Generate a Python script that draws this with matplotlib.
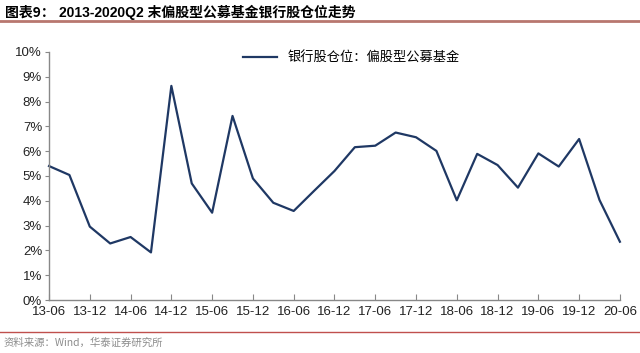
import matplotlib
matplotlib.use("Agg")
import matplotlib.pyplot as plt
from matplotlib.lines import Line2D

plt.rcParams["font.family"] = ["Liberation Sans", "Noto Sans CJK SC", "DejaVu Sans"]

# quarterly bank-stock weight of equity-biased public funds, 13-06 .. 20-06
quarters = ["13-06", "13-09", "13-12", "14-03", "14-06", "14-09", "14-12", "15-03",
            "15-06", "15-09", "15-12", "16-03", "16-06", "16-09", "16-12", "17-03",
            "17-06", "17-09", "17-12", "18-03", "18-06", "18-09", "18-12", "19-03",
            "19-06", "19-09", "19-12", "20-03", "20-06"]
weight = [5.40, 5.04, 2.96, 2.28, 2.54, 1.92, 8.63, 4.70,
          3.52, 7.42, 4.90, 3.92, 3.59, 4.40, 5.20, 6.16,
          6.22, 6.75, 6.56, 6.01, 4.02, 5.89, 5.44, 4.53,
          5.91, 5.38, 6.49, 4.03, 2.35]
series_name = "银行股仓位：偏股型公募基金"

fig = plt.figure(figsize=(6.4, 3.53), dpi=100)
ax = fig.add_axes([0.0766, 0.150, 0.892, 0.703])

x = list(range(len(quarters)))
ax.plot(x, weight, color="#1f3864", lw=1.6, label=series_name, clip_on=False)

ax.set_xlim(0, len(quarters) - 1)
ax.set_ylim(0, 10)
ax.set_yticks(range(0, 11))
ax.set_yticklabels([f"{v}%" for v in range(0, 11)], fontsize=9.5, color="#222222")
ax.set_xticks(x[::2])
ax.set_xticklabels(quarters[::2], fontsize=9.5, color="#222222")

for side in ["top", "right"]:
    ax.spines[side].set_visible(False)
for side in ["left", "bottom"]:
    ax.spines[side].set_color("#888888")
    ax.spines[side].set_linewidth(1.0)
ax.tick_params(axis="x", direction="in", length=4, color="#888888", pad=4)
ax.tick_params(axis="y", direction="out", length=3, color="#888888", pad=2)

ax.legend(handles=[Line2D([0], [0], color="#1f3864", lw=1.6)], labels=[series_name],
          loc="upper center", bbox_to_anchor=(0.53, 1.05), frameon=False,
          prop={"family": ["Noto Sans CJK SC"], "size": 9.5}, handlelength=2.6)

# header and footer
fig.text(0.008, 0.965, "图表9：", fontsize=10, fontweight="bold", va="center",
         family=["Noto Sans CJK SC"])
fig.text(0.092, 0.965, "2013-2020Q2 末偏股型公募基金银行股仓位走势", fontsize=10,
         fontweight="bold", va="center", family=["Liberation Sans", "Noto Sans CJK SC"])
fig.add_artist(Line2D([0, 1], [0.941, 0.941], color="#b8776f", lw=2.0, transform=fig.transFigure))
fig.add_artist(Line2D([0, 1], [0.060, 0.060], color="#c0504d", lw=1.0, transform=fig.transFigure))
fig.text(0.005, 0.028, "资料来源：Wind，华泰证券研究所", fontsize=7.5, color="#8c8c8c",
         va="center", family=["Noto Sans CJK SC"])

fig.savefig("out.png", dpi=100)
